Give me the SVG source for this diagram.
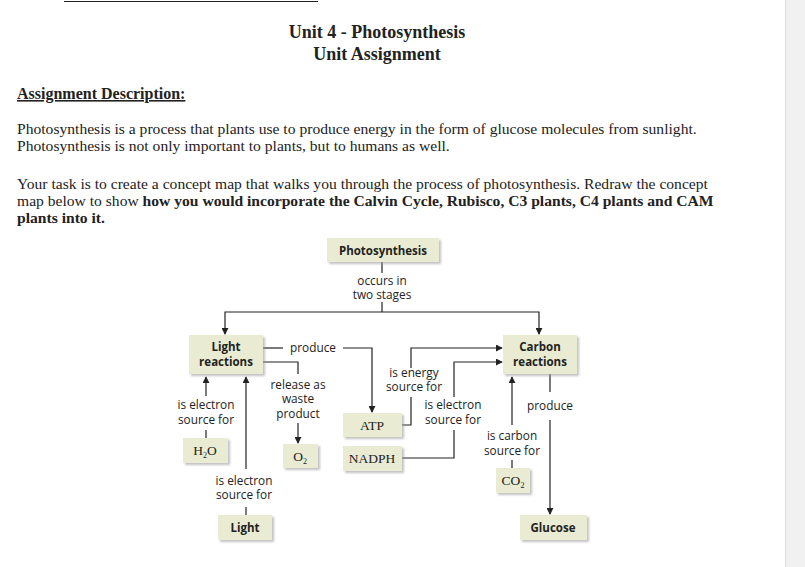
<svg xmlns="http://www.w3.org/2000/svg" width="805" height="567" viewBox="0 0 805 567">
<defs>
<marker id="ar" viewBox="0 0 8 8" refX="7" refY="4" markerWidth="7" markerHeight="7" orient="auto" markerUnits="userSpaceOnUse"><path d="M0,0 L8,4 L0,8 z" fill="#222"/></marker>
<filter id="sh" x="-10%" y="-10%" width="130%" height="140%"><feDropShadow dx="2" dy="2" stdDeviation="1" flood-color="#999" flood-opacity="0.6"/></filter>
</defs>
<style>
.doc{font-family:"Liberation Serif",serif;font-size:15.6px;fill:#222}
.b{font-weight:bold}
.t{font-size:18px;text-anchor:middle}
.h{font-size:16px;text-decoration:underline}
.box{fill:#e9ecd3;filter:url(#sh)}
.nl{font-family:"Open Sans","DejaVu Sans",sans-serif;font-size:11.5px;font-weight:bold;fill:#222;text-anchor:middle}
.ns{font-family:"Liberation Serif",serif;font-size:13.5px;fill:#222;text-anchor:middle}
.lb{font-family:"Open Sans","DejaVu Sans",sans-serif;font-size:11.8px;fill:#222;text-anchor:middle}
.c{fill:none;stroke:#222;stroke-width:1.2}
.a{marker-end:url(#ar)}
</style>
<rect width="805" height="567" fill="#fff"/>
<rect x="785" y="0" width="20" height="567" fill="#f1f1f1"/>
<line x1="785.5" y1="0" x2="785.5" y2="567" stroke="#ddd"/>
<line x1="64" y1="1.5" x2="318" y2="1.5" stroke="#222"/>
<text class="doc b t" x="377" y="38">Unit 4 - Photosynthesis</text>
<text class="doc b t" x="377" y="60">Unit Assignment</text>
<text class="doc b h" x="17" y="99">Assignment Description:</text>
<text class="doc" x="17" y="134">Photosynthesis is a process that plants use to produce energy in the form of glucose molecules from sunlight.</text>
<text class="doc" x="17" y="151">Photosynthesis is not only important to plants, but to humans as well.</text>
<text class="doc" x="17" y="189">Your task is to create a concept map that walks you through the process of photosynthesis. Redraw the concept</text>
<text class="doc" x="17" y="206">map below to show <tspan class="b">how you would incorporate the Calvin Cycle, Rubisco, C3 plants, C4 plants and CAM</tspan></text>
<text class="doc b" x="17" y="223">plants into it.</text>

<g id="connectors">
<path class="c" d="M382,262 V273"/><path class="c" d="M382,302 V312"/>
<path class="c a" d="M382,312 H225 V334"/><path class="c a" d="M382,312 H539 V334"/>
<path class="c" d="M263,348 H283"/><path class="c a" d="M343,348 H372 V412"/>
<path class="c" d="M263,362 H298 V374"/><path class="c a" d="M298,423 V443"/>
<path class="c" d="M206,438 V430"/><path class="c a" d="M206,396 V377"/>
<path class="c" d="M246,515 V507"/><path class="c a" d="M246,469 V377"/>
<path class="c" d="M402,425 H411 V397"/><path class="c a" d="M411,368 V348 H502"/>
<path class="c" d="M402,458 H454 V430"/><path class="c a" d="M454,397 V362 H502"/>
<path class="c" d="M512,468 V460"/><path class="c a" d="M512,425 V377"/>
<path class="c" d="M550,374 V392"/><path class="c a" d="M550,420 V514"/>
</g>
<g id="labels">
<text class="lb" x="382" y="285">occurs in</text><text class="lb" x="382" y="299">two stages</text>
<text class="lb" x="313" y="352">produce</text>
<text class="lb" x="298" y="389">release as</text><text class="lb" x="298" y="403">waste</text><text class="lb" x="298" y="418">product</text>
<text class="lb" x="206" y="409">is electron</text><text class="lb" x="206" y="424">source for</text>
<text class="lb" x="244" y="485">is electron</text><text class="lb" x="244" y="499">source for</text>
<text class="lb" x="414" y="377">is energy</text><text class="lb" x="414" y="391">source for</text>
<text class="lb" x="453" y="409">is electron</text><text class="lb" x="453" y="424">source for</text>
<text class="lb" x="512" y="440">is carbon</text><text class="lb" x="512" y="455">source for</text>
<text class="lb" x="550" y="410">produce</text>
</g>
<g id="n-photo"><rect class="box" x="327" y="238" width="112" height="24"/><text class="nl" x="383" y="255">Photosynthesis</text></g>
<g id="n-light-r"><rect class="box" x="189" y="335" width="74" height="39"/><text class="nl" x="226" y="351">Light</text><text class="nl" x="226" y="366">reactions</text></g>
<g id="n-carbon"><rect class="box" x="503" y="335" width="74" height="39"/><text class="nl" x="540" y="351">Carbon</text><text class="nl" x="540" y="366">reactions</text></g>
<g id="n-atp"><rect class="box" x="343" y="413" width="59" height="24"/><text class="ns" x="372" y="430">ATP</text></g>
<g id="n-nadph"><rect class="box" x="343" y="446" width="59" height="25"/><text class="ns" x="372" y="463">NADPH</text></g>
<g id="n-o2"><rect class="box" x="283" y="444" width="35" height="24"/><text class="ns" x="300" y="461">O<tspan font-size="8" dy="3">2</tspan></text></g>
<g id="n-h2o"><rect class="box" x="183" y="438" width="45" height="25"/><text class="ns" x="205" y="455">H<tspan font-size="8" dy="3">2</tspan><tspan dy="-3">O</tspan></text></g>
<g id="n-co2"><rect class="box" x="496" y="468" width="34" height="25"/><text class="ns" x="513" y="485">CO<tspan font-size="8" dy="3">2</tspan></text></g>
<g id="n-light"><rect class="box" x="218" y="515" width="54" height="25"/><text class="nl" x="245" y="532">Light</text></g>
<g id="n-glucose"><rect class="box" x="520" y="515" width="67" height="25"/><text class="nl" x="553" y="532">Glucose</text></g>
</svg>
